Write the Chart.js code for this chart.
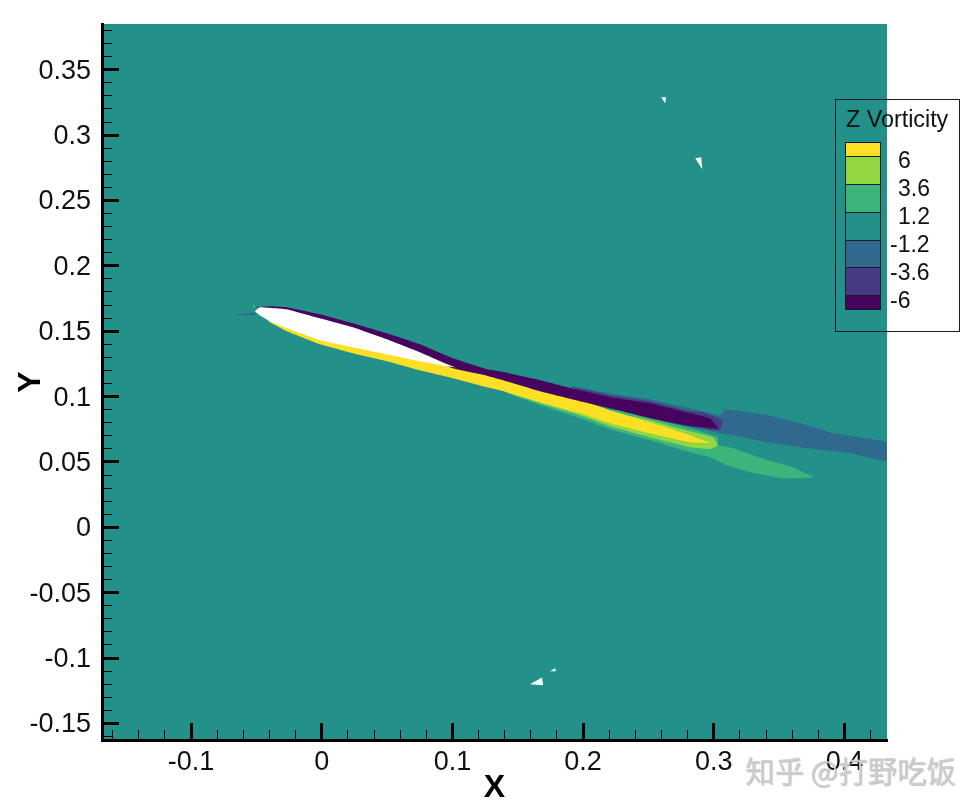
<!DOCTYPE html>
<html>
<head>
<meta charset="utf-8">
<style>html,body{margin:0;padding:0;background:#fff}canvas{display:block}</style>
<script src="https://cdn.jsdelivr.net/npm/chart.js@4"></script>
</head>
<body>
<canvas id="c" width="980" height="812"></canvas>
<script>
const xRange = [-0.1682, 0.4326];
const yRange = [-0.1627, 0.3850];
const xTickValues = [-0.1, 0, 0.1, 0.2, 0.3, 0.4];
const yTickValues = [-0.15, -0.1, -0.05, 0, 0.05, 0.1, 0.15, 0.2, 0.25, 0.3, 0.35];
const xTickLabels = ['-0.1', '0', '0.1', '0.2', '0.3', '0.4'];
const yTickLabels = ['-0.15', '-0.1', '-0.05', '0', '0.05', '0.1', '0.15', '0.2', '0.25', '0.3', '0.35'];
const xMinorStep = 0.02;
const yMinorStep = 0.01;

const legendTitle = 'Z Vorticity';
const legendLevels = ['6', '3.6', '1.2', '-1.2', '-3.6', '-6'];
const legendColors = ['#fde026', '#91d742', '#3bb57a', '#23908a', '#2f6a8e', '#463a84', '#46045f'];
const watermark = '知乎 @打野吃饭';

const fieldBackground = [[-0.1682, -0.1627], [0.4326, -0.1627], [0.4326, 0.3850], [-0.1682, 0.3850]];
const bandBlue = [[.1900,.1085],[.2206,.1025],[.2512,.0979],[.2819,.0910],[.3050,.0857],[.3087,.0903],[.3410,.0857],[.3663,.0796],[.3916,.0719],[.4330,.0650],[.4330,.0505],[.4046,.0566],[.3663,.0612],[.3410,.0650],[.3150,.0704],[.3050,.0719],[.2989,.0735],[.2590,.0811]];
const bandGreen = [[.2283,.0895],[.2819,.0757],[.3033,.0689],[.3033,.0627],[.3150,.0605],[.3303,.0551],[.3410,.0513],[.3563,.0474],[.3762,.0383],[.3533,.0375],[.3280,.0421],[.3103,.0474],[.2973,.0536],[.2819,.0574],[.2512,.0666],[.2206,.0750],[.1976,.0834],[.1670,.0933],[.1402,.1033],[.2000,.0900]];
const bandLightGreen = [[.2512,.0819],[.2819,.0734],[.2995,.0689],[.3033,.0627],[.2972,.0597],[.2819,.0612],[.2512,.0689],[.2206,.0773],[.1976,.0857],[.1670,.0949],[.1402,.1040],[.1670,.1000]];
const bandYellow = [[-.0437,.1614],[.0958,.1262],[.1364,.1140],[.1670,.1050],[.1976,.0975],[.2206,.0895],[.2512,.0803],[.2819,.0704],[.2972,.0643],[.2819,.0650],[.2512,.0719],[.2206,.0796],[.1976,.0872],[.1670,.0956],[.1364,.1048],[.1264,.1071],[.1004,.1140],[.0751,.1201],[.0498,.1270],[.0238,.1331],[-.0015,.1400],[-.0268,.1499],[-.0398,.1568]];
const bandPurple = [[.1900,.1079],[.2206,.1010],[.2512,.0964],[.2819,.0887],[.2918,.0880],[.3065,.0819],[.3050,.0742],[.2995,.0742],[.2512,.0857],[.2130,.0956]];
const bandDark = [[-.0498,.1684],[-.0398,.1691],[-.0268,.1684],[-.0015,.1630],[.0238,.1561],[.0498,.1484],[.0751,.1400],[.1004,.1293],[.1264,.1209],[.1364,.1193],[.1670,.1125],[.1976,.1048],[.2206,.0995],[.2512,.0949],[.2819,.0872],[.2972,.0834],[.3033,.0757],[.2819,.0773],[.2512,.0834],[.2206,.0910],[.1976,.0964],[.1670,.1040],[.1364,.1132],[.1264,.1160],[.1004,.1216],[.0598,.1393],[-.0169,.1584]];
const airfoilHole = [[-.0513,.1652],[-.0475,.1684],[-.0268,.1668],[-.0015,.1599],[.0238,.1530],[.0498,.1438],[.0751,.1339],[.0942,.1255],[.1019,.1224],[.0958,.1232],[.0751,.1270],[.0498,.1323],[.0238,.1377],[-.0015,.1431],[-.0268,.1522],[-.0398,.1576],[-.0475,.1622]];
const noseGreen = [[-.0529,.1714],[-.0506,.1684],[-.0521,.1669]];
const noseBlue = [[-.0682,.1623],[-.0513,.1646],[-.0513,.1623]];
const holeA = [[.2598,.3290],[.2636,.3290],[.2628,.3244]];
const holeB = [[.2858,.2823],[.2904,.2831],[.2912,.2739]];
const holeC = [[.1594,-.1201],[.1686,-.1148],[.1694,-.1209]];
const holeD = [[.1747,-.1102],[.1785,-.1079],[.1793,-.1102]];

// bottom layer first
const layers = [
  [fieldBackground, legendColors[3]],
  [bandBlue, legendColors[4]],
  [bandGreen, legendColors[2]],
  [bandLightGreen, legendColors[1]],
  [bandYellow, legendColors[0]],
  [bandPurple, legendColors[5]],
  [bandDark, legendColors[6]],
  [airfoilHole, '#ffffff'],
  [noseGreen, legendColors[2]],
  [noseBlue, legendColors[4]],
  [holeA, '#ffffff'], [holeB, '#ffffff'], [holeC, '#ffffff'], [holeD, '#ffffff']
];

const FONT = '"Liberation Sans", Arial, sans-serif';

const overlay = {
  id: 'overlay',
  afterDraw(chart) {
    const ctx = chart.ctx;
    ctx.save();
    // legend
    ctx.strokeStyle = '#1a1a2a';
    ctx.lineWidth = 1;
    ctx.strokeRect(835.5, 99.5, 124, 232);
    ctx.fillStyle = '#111';
    ctx.font = '23.3px ' + FONT;
    ctx.textBaseline = 'middle';
    ctx.textAlign = 'left';
    ctx.fillText(legendTitle, 846, 121);
    const edges = [142, 156, 184, 212, 240, 267, 295, 309];
    legendColors.forEach((col, i) => {
      ctx.fillStyle = col;
      ctx.fillRect(845.5, edges[i] + 0.5, 35, edges[i + 1] - edges[i]);
      ctx.strokeRect(845.5, edges[i] + 0.5, 35, edges[i + 1] - edges[i]);
    });
    ctx.fillStyle = '#111';
    ctx.font = '23px ' + FONT;
    const labelY = [162, 190, 218, 246, 274, 302];
    legendLevels.forEach((t, i) => {
      ctx.fillText(t, t[0] === '-' ? 890 : 898, labelY[i]);
    });
    // watermark
    ctx.font = '29.4px "Noto Sans CJK SC"';
    ctx.fillStyle = 'rgba(205,205,205,0.9)';
    ctx.shadowColor = 'rgba(120,120,120,0.5)';
    ctx.shadowBlur = 1;
    ctx.shadowOffsetX = 1;
    ctx.shadowOffsetY = 1;
    ctx.fillText(watermark, 745, 771);
    ctx.restore();
  }
};

const zeroPad = s => { s.paddingTop = 0; s.paddingBottom = 0; s.paddingLeft = 0; s.paddingRight = 0; };

const majorAxis = (range, values, labels, size, fit, titleText, titlePad, pad, labelOffset) => ({
  type: 'linear',
  weight: 1,
  min: range[0], max: range[1],
  afterBuildTicks(s) { s.ticks = values.map(v => ({ value: v })); },
  afterFit(s) { s[fit] = size; zeroPad(s); },
  border: { display: true, color: '#000', width: 3, z: 2 },
  grid: { drawOnChartArea: false, drawTicks: true, tickLength: -17, tickWidth: 3, tickColor: '#000', z: 1 },
  ticks: {
    autoSkip: false, maxRotation: 0, padding: pad, labelOffset, color: '#111', z: 3,
    font: { family: FONT, size: 27 },
    callback(v) { const i = values.indexOf(v); return i >= 0 ? labels[i] : ''; }
  },
  title: { display: true, text: titleText, color: '#000', font: { family: FONT, size: 32, weight: 'bold' }, padding: titlePad }
});
const minorAxis = (range, step, fit, pos) => ({
  type: 'linear', position: pos,
  weight: 0,
  axis: pos === 'bottom' ? 'x' : 'y',
  min: range[0], max: range[1],
  afterFit(s) { s[fit] = 0; zeroPad(s); },
  border: { display: false, z: 2 },
  grid: { drawOnChartArea: false, drawTicks: true, tickLength: -10, tickWidth: 1, tickColor: '#000', z: 1 },
  ticks: { display: false, autoSkip: false, stepSize: step, includeBounds: false }
});

const smooth = new Set([bandDark, bandYellow, airfoilHole, bandGreen, bandBlue, bandPurple, bandLightGreen]);

new Chart(document.getElementById('c'), {
  type: 'scatter',
  data: {
    datasets: layers.map(([pts, color], i) => ({
      data: pts.map(p => ({ x: p[0], y: p[1] })),
      order: layers.length - i,
      showLine: true,
      fill: 'shape',
      backgroundColor: color,
      borderColor: color,
      borderWidth: 0,
      pointRadius: 0,
      pointHoverRadius: 0,
      tension: smooth.has(pts) ? 0.08 : 0,
      xAxisID: 'x',
      yAxisID: 'y'
    }))
  },
  options: {
    responsive: false,
    animation: false,
    devicePixelRatio: 1,
    layout: { padding: { top: 24, right: 93, left: 0, bottom: 0 } },
    plugins: { legend: { display: false }, tooltip: { enabled: false } },
    events: [],
    scales: {
      x: Object.assign(majorAxis(xRange, xTickValues, xTickLabels, 72, 'height', 'X', { top: 0, bottom: 5 }, 23, 0), { position: 'bottom' }),
      xMinor: minorAxis(xRange, xMinorStep, 'height', 'bottom'),
      y: Object.assign(majorAxis(yRange, yTickValues, yTickLabels, 102, 'width', 'Y', { top: 12, bottom: 0 }, 28, 1.5), { position: 'left' }),
      yMinor: minorAxis(yRange, yMinorStep, 'width', 'left')
    }
  },
  plugins: [overlay]
});
</script>
</body>
</html>
